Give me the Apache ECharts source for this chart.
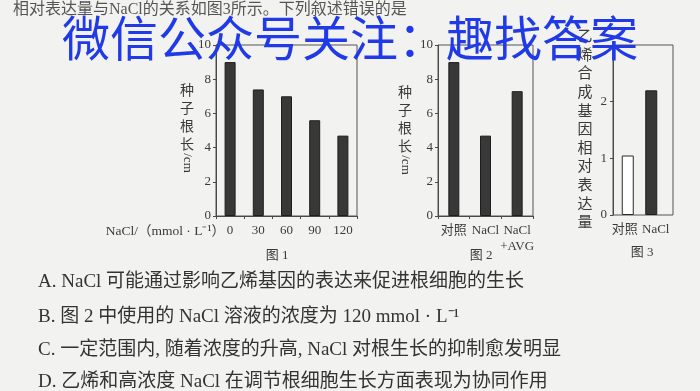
<!DOCTYPE html>
<html>
<head>
<meta charset="utf-8">
<script src="https://cdn.jsdelivr.net/npm/echarts@6/dist/echarts.min.js"></script>
<style>
html,body{margin:0;padding:0;background:#f2f2f0;}
#main{width:700px;height:391px;}
</style>
</head>
<body>
<div id="main"></div>
<script>
// ---- data ----
const fig1Categories = ['0', '30', '60', '90', '120'];
const fig1Values = [9.0, 7.4, 7.0, 5.6, 4.7];
const fig2Categories = ['对照', 'NaCl', 'NaCl\n+AVG'];
const fig2Values = [9.0, 4.7, 7.3];
const fig3Categories = ['对照', 'NaCl'];
const fig3Values = [1.05, 2.2];
const rootAxisMax = 10, rootAxisStep = 2;
const exprAxisMax = 3, exprAxisStep = 1;

const questionStem = '相对表达量与NaCl的关系如图3所示。下列叙述错误的是';
const watermark = '微信公众号关注：趣找答案';
const options = [
  'A. NaCl 可能通过影响乙烯基因的表达来促进根细胞的生长',
  'B. 图 2 中使用的 NaCl 溶液的浓度为 120 mmol · L⁻¹',
  'C. 一定范围内, 随着浓度的升高, NaCl 对根生长的抑制愈发明显',
  'D. 乙烯和高浓度 NaCl 在调节根细胞生长方面表现为协同作用'
];

const FONT = '"Liberation Serif", "Noto Sans CJK SC", serif';
const TXT = '#3a3a3a';
const AX = '#4a4a4a';

function xAxisCfg(gi, cats) {
  return {
    type: 'category', gridIndex: gi, data: cats,
    axisLine: {lineStyle: {color: AX, width: 1}},
    axisTick: {show: true, length: 3, lineStyle: {color: AX}},
    axisLabel: {color: TXT, fontSize: 13, fontFamily: FONT, margin: 7, lineHeight: 16, interval: 0}
  };
}
function yAxisCfg(gi, max, step, extra) {
  return Object.assign({
    type: 'value', gridIndex: gi, min: 0, max: max, interval: step,
    axisLine: {show: true, lineStyle: {color: AX, width: 1}},
    axisTick: {show: true, length: 3, lineStyle: {color: AX}},
    splitLine: {show: false},
    axisLabel: {color: TXT, fontSize: 13, fontFamily: FONT, margin: 5}
  }, extra || {});
}
const darkBar = {color: '#383838', borderColor: '#1e1e1e', borderWidth: 1};

const fig3X = xAxisCfg(2, fig3Categories);
fig3X.axisTick = {show: false};
fig3X.axisLine = {show: false};
fig3X.axisLabel.formatter = (v, i) => i === 0 ? '{l|' + v + '}' : '{r|' + v + '}';
fig3X.axisLabel.rich = {
  l: {fontSize: 13, fontFamily: FONT, color: TXT, padding: [0, 6, 0, 0]},
  r: {fontSize: 13, fontFamily: FONT, color: TXT, padding: [0, 0, 0, 9]}
};

const chart = echarts.init(document.getElementById('main'), null, {renderer: 'canvas'});
chart.setOption({
  backgroundColor: '#f2f2f0',
  animation: false,
  grid: [
    {left: 216, top: 45, width: 141, height: 171, show: true, borderColor: '#555', borderWidth: 1, backgroundColor: 'transparent'},
    {left: 438, top: 45, width: 95, height: 171, show: true, borderColor: '#555', borderWidth: 1, backgroundColor: 'transparent'},
    {left: 616, top: 45, width: 47, height: 170, show: false},
    {left: 613, top: 45, width: 60, height: 170, show: true, borderColor: '#555', borderWidth: 1, backgroundColor: 'transparent'}
  ],
  xAxis: [
    xAxisCfg(0, fig1Categories),
    xAxisCfg(1, fig2Categories),
    fig3X
  ],
  yAxis: [
    yAxisCfg(0, rootAxisMax, rootAxisStep),
    yAxisCfg(1, rootAxisMax, rootAxisStep),
    yAxisCfg(2, exprAxisMax, exprAxisStep, {offset: 3, axisLabel: {color: TXT, fontSize: 13, fontFamily: FONT, margin: 6, showMaxLabel: false}})
  ],
  series: [
    {type: 'bar', xAxisIndex: 0, yAxisIndex: 0, data: fig1Values, barWidth: 11, itemStyle: darkBar, silent: true},
    {type: 'bar', xAxisIndex: 1, yAxisIndex: 1, data: fig2Values, barWidth: 11, itemStyle: darkBar, silent: true},
    {type: 'bar', xAxisIndex: 2, yAxisIndex: 2, barWidth: 12, silent: true,
      data: fig3Values.map((v, i) => ({value: v, itemStyle: i === 0 ? {color: '#ffffff', borderColor: '#2a2a2a', borderWidth: 1} : darkBar}))}
  ],
  graphic: [
    {type: 'text', x: 13, y: 10, style: {text: questionStem, font: '16px ' + FONT, fill: '#555', verticalAlign: 'middle'}},
    // y axis titles
    {type: 'text', x: 187, y: 82, style: {text: '种\n子\n根\n长', font: '14px ' + FONT, fill: TXT, align: 'center', lineHeight: 18}},
    {type: 'text', x: 187, y: 163, rotation: -Math.PI / 2, style: {text: '/cm', font: '13px ' + FONT, fill: TXT, align: 'center', verticalAlign: 'middle'}},
    {type: 'text', x: 405, y: 84, style: {text: '种\n子\n根\n长', font: '14px ' + FONT, fill: TXT, align: 'center', lineHeight: 18}},
    {type: 'text', x: 405, y: 165, rotation: -Math.PI / 2, style: {text: '/cm', font: '13px ' + FONT, fill: TXT, align: 'center', verticalAlign: 'middle'}},
    {type: 'text', x: 585, y: 28, style: {text: '乙\n烯\n合\n成\n基\n因\n相\n对\n表\n达\n量', font: '15px ' + FONT, fill: TXT, align: 'center', lineHeight: 18.6}},
    // x axis name of fig 1
    {type: 'text', x: 225, y: 231, style: {text: 'NaCl/（mmol · L⁻¹）', font: '13.5px ' + FONT, fill: TXT, align: 'right', verticalAlign: 'middle'}},
    // captions
    {type: 'text', x: 277, y: 256, style: {text: '图 1', font: '13px ' + FONT, fill: TXT, align: 'center', verticalAlign: 'middle'}},
    {type: 'text', x: 481, y: 256, style: {text: '图 2', font: '13px ' + FONT, fill: TXT, align: 'center', verticalAlign: 'middle'}},
    {type: 'text', x: 642, y: 253, style: {text: '图 3', font: '13px ' + FONT, fill: TXT, align: 'center', verticalAlign: 'middle'}},
    // answer options
    {type: 'text', x: 38, y: 282, style: {text: options[0], font: '19px ' + FONT, fill: '#333', verticalAlign: 'middle'}},
    {type: 'text', x: 38, y: 317, style: {text: options[1], font: '19px ' + FONT, fill: '#333', verticalAlign: 'middle'}},
    {type: 'text', x: 38, y: 350, style: {text: options[2], font: '19px ' + FONT, fill: '#333', verticalAlign: 'middle'}},
    {type: 'text', x: 38, y: 382, style: {text: options[3], font: '19px ' + FONT, fill: '#333', verticalAlign: 'middle'}},
    // watermark
    {type: 'text', x: 62, y: 38, z: 100, style: {text: watermark, font: '48px "Noto Sans CJK SC", sans-serif', fill: '#1f3ae6', verticalAlign: 'middle'}}
  ]
});
</script>
</body>
</html>
